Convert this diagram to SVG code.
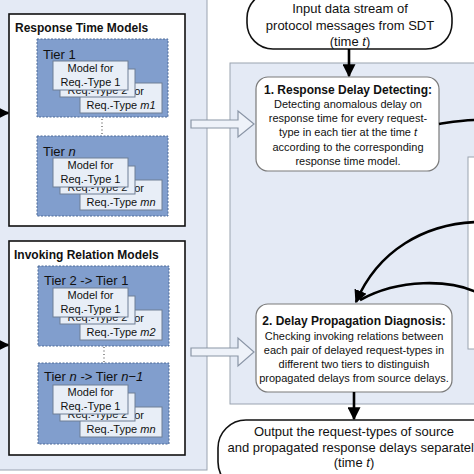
<svg xmlns="http://www.w3.org/2000/svg" width="474" height="474" viewBox="0 0 474 474">
<defs>
<style>
.panel{fill:#e4eaf5;stroke:#9aa3b0;stroke-width:1}
.model{fill:#ffffff;stroke:#111;stroke-width:1.6}
.tier{fill:#819ecd;stroke:#4d6a98;stroke-width:1;stroke-dasharray:2 1.5}
.card{fill:#e8eef7;stroke:#6f7f96;stroke-width:1}
.step{fill:#ffffff;stroke:#7a7a7a;stroke-width:1.2}
.term{fill:#ffffff;stroke:#111;stroke-width:1.6}
.hollow{fill:#eef2f9;stroke:#8a95a6;stroke-width:1.2}
.conn{fill:none;stroke:#000;stroke-width:2.6}
.dots{stroke:#555;stroke-width:1.2;stroke-dasharray:1 2.5}
text{font-family:"Liberation Sans",Arial,sans-serif;fill:#111}
.t12b{font-size:12px;font-weight:bold}
.t13t{font-size:13px}
.t11{font-size:11px}
.t13{font-size:13px}
.c{text-anchor:middle}
.i{font-style:italic}
</style>
<marker id="ah" viewBox="0 0 10 10" refX="9" refY="5" markerWidth="5" markerHeight="5" orient="auto">
<path d="M0,0 L10,5 L0,10 z" fill="#000"/>
</marker>
<g id="stack">
<rect class="card" x="80" y="83" width="82" height="30"/>
<text class="t11 c" x="121" y="95">Model for</text>
<rect class="card" x="60" y="69" width="75" height="28"/>
<text class="t11 c" x="97.5" y="80">Model for</text>
<text class="t11 c" x="97.5" y="94">Req.-Type 2</text>
<rect class="card" x="53" y="61" width="75" height="29"/>
<text class="t11 c" x="90.5" y="72">Model for</text>
<text class="t11 c" x="90.5" y="86">Req.-Type 1</text>
</g>
</defs>

<g id="left-panel">
<rect class="panel" x="-2" y="-2" width="209" height="472"/>
</g>
<g id="middle-panel">
<rect class="panel" x="230" y="63" width="250" height="341"/>
</g>
<g id="right-box">
<rect x="468" y="157" width="20" height="192" fill="#fff" stroke="#9aa3b0" stroke-width="1"/>
</g>

<g id="response-time-models">
<rect class="model" x="9" y="14" width="176" height="212"/>
<text class="t12b" x="15" y="32">Response Time Models</text>
<g id="rt-tier1">
<rect class="tier" x="37" y="39" width="131" height="78"/>
<text class="t13t" x="43" y="59">Tier 1</text>
<use href="#stack"/>
<text class="t11 c" x="121" y="109">Req.-Type <tspan class="i">m1</tspan></text>
</g>
<line class="dots" x1="102" y1="119" x2="102" y2="136"/>
<g id="rt-tiern">
<rect class="tier" x="37" y="136" width="131" height="80"/>
<text class="t13t" x="43" y="156">Tier <tspan class="i">n</tspan></text>
<use href="#stack" y="97"/>
<text class="t11 c" x="121" y="206">Req.-Type <tspan class="i">mn</tspan></text>
</g>
</g>

<g id="invoking-relation-models">
<rect class="model" x="9" y="241" width="176" height="214"/>
<text class="t12b" x="14" y="259">Invoking Relation Models</text>
<g id="ir-tier21">
<rect class="tier" x="38" y="266" width="131" height="80"/>
<text class="t13t" x="44" y="285">Tier 2 -&gt; Tier 1</text>
<use href="#stack" y="227"/>
<text class="t11 c" x="121" y="336">Req.-Type <tspan class="i">m2</tspan></text>
</g>
<line class="dots" x1="104" y1="347" x2="104" y2="362"/>
<g id="ir-tiern">
<rect class="tier" x="38" y="363" width="131" height="81"/>
<text class="t13t" x="44" y="381">Tier <tspan class="i">n</tspan> -&gt; Tier <tspan class="i">n</tspan>−<tspan class="i">1</tspan></text>
<use href="#stack" y="324"/>
<text class="t11 c" x="121" y="433">Req.-Type <tspan class="i">mn</tspan></text>
</g>
</g>

<g id="hollow-arrows">
<path class="hollow" d="M191,120 L238,120 L238,111 L254,124 L238,137 L238,128 L191,128 Z"/>
<path class="hollow" d="M191,348 L238,348 L238,338 L254,352 L238,366 L238,356 L191,356 Z"/>
</g>

<g id="input-stream">
<rect class="term" x="247" y="-8" width="205" height="57" rx="26" ry="26"/>
<text class="t13 c" x="350" y="13">Input data stream of</text>
<text class="t13 c" x="350" y="30">protocol messages from SDT</text>
<text class="t13 c" x="350" y="46">(time <tspan class="i">t</tspan>)</text>
</g>

<g id="step1">
<rect class="step" x="256" y="77" width="183" height="94" rx="12"/>
<text class="t12b c" x="348" y="94">1. Response Delay Detecting:</text>
<text class="t11 c" x="348" y="108">Detecting anomalous delay on</text>
<text class="t11 c" x="348" y="122">response time for every request-</text>
<text class="t11 c" x="348" y="136">type in each tier at the time <tspan class="i">t</tspan></text>
<text class="t11 c" x="348" y="151">according to the corresponding</text>
<text class="t11 c" x="348" y="165">response time model.</text>
</g>

<g id="step2">
<rect class="step" x="256" y="304" width="196" height="88" rx="12"/>
<text class="t12b c" x="354" y="325">2. Delay Propagation Diagnosis:</text>
<text class="t11 c" x="354" y="340">Checking invoking relations between</text>
<text class="t11 c" x="354" y="354">each pair of delayed request-types in</text>
<text class="t11 c" x="354" y="368">different two tiers to distinguish</text>
<text class="t11 c" x="354" y="382">propagated delays from source delays.</text>
</g>

<g id="output">
<rect class="term" x="218" y="420" width="290" height="70" rx="28" ry="28"/>
<text class="t13 c" x="354" y="436">Output the request-types of source</text>
<text class="t13 c" x="354" y="452">and propagated response delays separately</text>
<text class="t13 c" x="354" y="467">(time <tspan class="i">t</tspan>)</text>
</g>

<g id="connectors">
<line class="conn" x1="349" y1="49" x2="349" y2="76" marker-end="url(#ah)"/>
<line class="conn" x1="354" y1="392" x2="354" y2="419" marker-end="url(#ah)"/>
<line class="conn" x1="-6" y1="113" x2="8" y2="113" marker-end="url(#ah)"/>
<line class="conn" x1="-6" y1="345" x2="8" y2="345" marker-end="url(#ah)"/>
<path class="conn" d="M439,124 C452,122 462,120 476,120"/>
<path class="conn" d="M476,222 C425,224 378,250 356,302" marker-end="url(#ah)"/>
<path class="conn" d="M476,292 C450,280 400,278 360,300"/>
</g>
</svg>
